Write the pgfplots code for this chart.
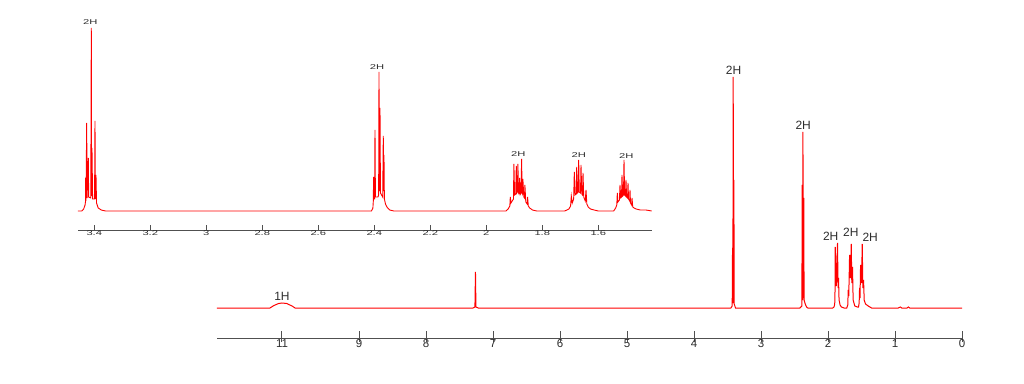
\documentclass[border=0pt]{standalone}
\usepackage{fontspec}
\setmainfont{Liberation Sans}
\usepackage{pgfplots}
\pgfplotsset{compat=1.18}
\definecolor{spec}{RGB}{255,0,0}
\definecolor{axgray}{RGB}{80,80,80}
\definecolor{txt}{RGB}{45,45,45}
\begin{document}
\begin{tikzpicture}[x=1pt,y=1pt]
\path[use as bounding box] (0,0) rectangle (1024,383);
% ---------- main spectrum ----------
\begin{axis}[
  at={(217pt,45pt)}, anchor=south west,
  scale only axis, width=745pt, height=270pt,
  xmin=0, xmax=11.12, ymin=-30, ymax=240, x dir=reverse,
  axis x line*=bottom, hide y axis, clip=false,
  axis line style={axgray, line width=1pt, -},
  xtick={10.15,9,8,7,6,5,4,3,2,1,0},
  xticklabels={11,9,8,7,6,5,4,3,2,1,0},
  tick align=center, major tick length=11pt,
  tick style={axgray, line width=1pt, yshift=2pt},
  xticklabel style={font=\fontsize{11.5}{12}\selectfont, text=txt, anchor=north, inner sep=0pt, yshift=4.5pt},
  /pgf/number format/assume math mode=true,
]
\addplot[spec, line width=1pt] coordinates {
 (11.12,0) (10.6,0) (10.33,0) (10.27,2.5) (10.2,4.5) (10.15,5) (10.08,4.5) (10.0,2) (9.955,0)
 (9.0,0) (8.0,0) (7.30,0) (7.27,1) (7.262,36) (7.255,1) (7.22,0)
 (6.0,0) (5.0,0) (4.0,0) (3.45,0) (3.43,2) (3.425,60) (3.42,5) (3.415,231) (3.41,8) (3.405,128) (3.40,4) (3.38,0)
 (2.8,0) (2.42,0) (2.39,2) (2.385,123) (2.38,8) (2.374,176) (2.369,10) (2.362,110) (2.357,8) (2.34,4) (2.32,1) (2.30,0)
 (1.93,0) (1.91,1) (1.90,4) (1.896,12) (1.892,61) (1.875,22) (1.858,65) (1.85,20) (1.843,30) (1.835,8) (1.82,3) (1.80,1) (1.76,0)
 (1.72,0) (1.705,3) (1.698,18) (1.69,12) (1.678,53) (1.665,30) (1.653,64) (1.645,25) (1.634,41) (1.625,8) (1.60,2) (1.56,1)
 (1.545,1) (1.535,5) (1.529,20) (1.522,10) (1.514,43) (1.50,25) (1.489,64) (1.48,20) (1.469,28) (1.46,8) (1.44,4) (1.40,2) (1.35,0)
 (0.95,0) (0.92,1) (0.90,0) (0.82,0) (0.80,1) (0.78,0) (0,0)
};
\node[txt, font=\fontsize{12}{12}\selectfont, anchor=south, inner sep=0pt] at (axis cs:10.15,7) {1H};
\node[txt, font=\fontsize{12}{12}\selectfont, anchor=south, inner sep=0pt] at (axis cs:3.41,233) {2H};
\node[txt, font=\fontsize{12}{12}\selectfont, anchor=south, inner sep=0pt] at (axis cs:2.37,178) {2H};
\node[txt, font=\fontsize{12}{12}\selectfont, anchor=south, inner sep=0pt] at (axis cs:1.96,67) {2H};
\node[txt, font=\fontsize{12}{12}\selectfont, anchor=south, inner sep=0pt] at (axis cs:1.66,71) {2H};
\node[txt, font=\fontsize{12}{12}\selectfont, anchor=south, inner sep=0pt] at (axis cs:1.37,66) {2H};
\end{axis}
% ---------- inset ----------
\begin{axis}[
  at={(78pt,153pt)}, anchor=south west,
  scale only axis, width=573.7pt, height=209pt,
  xmin=1.4093, xmax=3.4582, ymin=-19, ymax=190, x dir=reverse,
  axis x line*=bottom, hide y axis, clip=false,
  axis line style={axgray, line width=0.9pt, -},
  xtick={3.4,3.2,3,2.8,2.6,2.4,2.2,2,1.8,1.6},
  xticklabels={3.4,3.2,3,2.8,2.6,2.4,2.2,2,1.8,1.6},
  tick align=inside, major tick length=5pt,
  tick style={axgray, line width=0.9pt},
  xticklabel style={font=\fontsize{7}{7}\selectfont, text=txt, anchor=north, inner sep=0pt, yshift=-0.5pt, xscale=1.6},
  /pgf/number format/assume math mode=true,
]
\addplot[spec, line width=0.9pt] coordinates {
 (3.4582,0) (3.445,0) (3.438,2) (3.433,6) (3.4315,9)
 (3.4307,33) (3.4297,10) (3.4271,88) (3.4258,13) (3.4214,53) (3.420,14) (3.4125,13)
 (3.4107,183) (3.4095,15) (3.4082,63) (3.406,12) (3.399,12) (3.3975,90) (3.396,12) (3.3939,36) (3.392,8) (3.386,3) (3.375,1) (3.36,0)
 (3.2,0) (3.0,0) (2.8,0) (2.6,0) (2.45,0) (2.41,0) (2.405,3) (2.4035,10)
 (2.4025,34) (2.401,12) (2.399,12) (2.3975,81) (2.396,14) (2.387,14) (2.3845,16) (2.3832,139) (2.382,20) (2.3796,103) (2.378,18)
 (2.370,14) (2.3679,75) (2.3667,20) (2.3654,56) (2.364,12) (2.36,7) (2.355,4) (2.345,1) (2.33,0)
 (2.2,0) (2.0,0) (1.93,0) (1.922,2) (1.916,5)
 (1.9143,14) (1.912,8) (1.903,12) (1.9014,47) (1.899,16) (1.895,17) (1.8929,45) (1.891,18) (1.889,19) (1.8871,47) (1.885,18)
 (1.883,17) (1.8811,33) (1.878,17) (1.876,18) (1.8739,52) (1.872,18) (1.8705,17) (1.8693,32) (1.866,14) (1.8635,13) (1.8621,26) (1.859,9)
 (1.854,7) (1.8525,14) (1.850,5) (1.845,3) (1.835,1) (1.82,0)
 (1.72,0) (1.705,2) (1.699,5) (1.6964,15) (1.693,8) (1.688,12) (1.6857,39) (1.683,16) (1.679,17) (1.6771,44) (1.675,18) (1.672,19)
 (1.67,51) (1.668,19) (1.6635,18) (1.6618,46) (1.659,17) (1.6565,16) (1.6546,38) (1.652,14) (1.6465,10) (1.6439,21) (1.641,7)
 (1.636,4) (1.628,2) (1.615,1) (1.60,0)
 (1.545,0) (1.538,3) (1.534,6) (1.5321,18) (1.530,9) (1.5245,11) (1.5225,26) (1.520,13) (1.517,14) (1.5154,36) (1.513,15) (1.510,16)
 (1.5082,51) (1.506,16) (1.503,15) (1.5011,31) (1.499,14) (1.4955,13) (1.4939,28) (1.492,12) (1.488,10) (1.4868,21) (1.485,8)
 (1.481,6) (1.4796,13) (1.477,4) (1.472,3) (1.465,2) (1.45,1) (1.43,1) (1.4093,0)
};
\node[txt, font=\fontsize{7}{7}\selectfont, anchor=south, inner sep=0pt, xscale=1.6] at (axis cs:3.414,186) {2H};
\node[txt, font=\fontsize{7}{7}\selectfont, anchor=south, inner sep=0pt, xscale=1.6] at (axis cs:2.39,141) {2H};
\node[txt, font=\fontsize{7}{7}\selectfont, anchor=south, inner sep=0pt, xscale=1.6] at (axis cs:1.886,54) {2H};
\node[txt, font=\fontsize{7}{7}\selectfont, anchor=south, inner sep=0pt, xscale=1.6] at (axis cs:1.670,53) {2H};
\node[txt, font=\fontsize{7}{7}\selectfont, anchor=south, inner sep=0pt, xscale=1.6] at (axis cs:1.500,52) {2H};
\end{axis}
\end{tikzpicture}
\end{document}
